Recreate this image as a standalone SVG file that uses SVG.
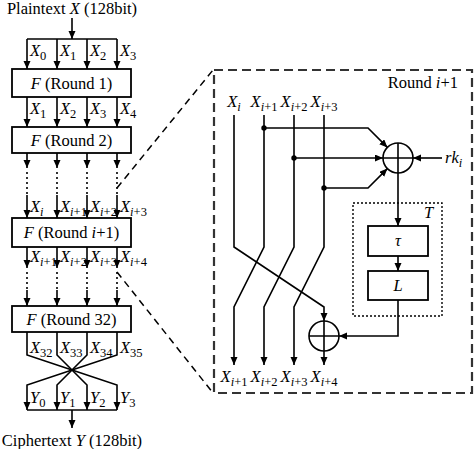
<svg xmlns="http://www.w3.org/2000/svg" width="474" height="449" viewBox="0 0 474 449">
<defs>
<marker id="ah" markerUnits="userSpaceOnUse" markerWidth="9" markerHeight="8" refX="8" refY="3.5" orient="auto">
<path d="M0,0 L8,3.5 L0,7 z" fill="#000"/>
</marker>
<style>
text{font-family:"Liberation Serif","Times New Roman",serif;font-size:16.5px;fill:#000}
.it{font-style:italic}
.s{font-size:12.5px}
.c{text-anchor:middle}
.ln{fill:none;stroke:#000;stroke-width:1.6}
.ar{fill:none;stroke:#000;stroke-width:1.6;marker-end:url(#ah)}
.dot{fill:none;stroke:#000;stroke-width:1.6;stroke-dasharray:2,3}
.dash{fill:none;stroke:#000;stroke-width:1.5;stroke-dasharray:7,5}
.box{fill:#fff;stroke:#000;stroke-width:1.8}
</style>
</defs>
<rect width="474" height="449" fill="#fff"/>

<g id="connectors">
<path class="ar" d="M72,18 V39"/>
<path class="ln" d="M27,39 H117"/>
<path class="ar" d="M27,39 V69"/><path class="ar" d="M57,39 V69"/><path class="ar" d="M87,39 V69"/><path class="ar" d="M117,39 V69"/>
<path class="ar" d="M27,97 V127"/><path class="ar" d="M57,97 V127"/><path class="ar" d="M87,97 V127"/><path class="ar" d="M117,97 V127"/>
<path class="ar" d="M27,153 V168"/><path class="ar" d="M57,153 V168"/><path class="ar" d="M87,153 V168"/><path class="ar" d="M117,153 V168"/>
<path class="dot" d="M27,172 V195 M57,172 V195 M87,172 V195 M117,172 V195"/>
<path class="ar" d="M27,195 V218"/><path class="ar" d="M57,195 V218"/><path class="ar" d="M87,195 V218"/><path class="ar" d="M117,195 V218"/>
<path class="ar" d="M27,247 V268"/><path class="ar" d="M57,247 V268"/><path class="ar" d="M87,247 V268"/><path class="ar" d="M117,247 V268"/>
<path class="dot" d="M27,272 V290 M57,272 V290 M87,272 V290 M117,272 V290"/>
<path class="ar" d="M27,290 V306"/><path class="ar" d="M57,290 V306"/><path class="ar" d="M87,290 V306"/><path class="ar" d="M117,290 V306"/>
<polyline class="ar" points="27,332 27,355 72,370 117,385 117,410"/>
<polyline class="ar" points="57,332 57,355 72,370 87,385 87,410"/>
<polyline class="ar" points="87,332 87,355 72,370 57,385 57,410"/>
<polyline class="ar" points="117,332 117,355 72,370 27,385 27,410"/>
<path class="ln" d="M27,410 H117"/>
<path class="ar" d="M72,410 V428"/>
<path class="dash" d="M117,188 L213,70"/>
<path class="dash" d="M117,272 L213,393"/>
<polyline class="ar" points="234,115 234,247 324,307 324,321"/>
<polyline class="ar" points="264,115 264,247 234,307 234,365"/>
<polyline class="ar" points="294,115 294,247 264,307 264,365"/>
<polyline class="ar" points="324,115 324,247 294,307 294,365"/>
<polyline class="ar" points="264,128 368,128 387.4,147.4"/>
<path class="ar" d="M294,158 H383"/>
<polyline class="ar" points="324,188 368,188 387.4,168.6"/>
<path class="ar" d="M442,158 H413"/>
<path class="ar" d="M398,173 V226"/>
<path class="ar" d="M398,256 V271"/>
<polyline class="ar" points="398,300 398,336 339,336"/>
<path class="ar" d="M324,351 V365"/>
<circle cx="264" cy="128" r="2.7" fill="#000"/>
<circle cx="294" cy="158" r="2.7" fill="#000"/>
<circle cx="324" cy="188" r="2.7" fill="#000"/>
</g>

<g id="plaintext"><text class="c" x="72" y="14">Plaintext <tspan class="it">X</tspan> (128bit)</text></g>
<g id="labels-in">
<text x="30" y="56"><tspan class="it">X</tspan><tspan class="s" dy="4">0</tspan></text>
<text x="60" y="56"><tspan class="it">X</tspan><tspan class="s" dy="4">1</tspan></text>
<text x="90" y="56"><tspan class="it">X</tspan><tspan class="s" dy="4">2</tspan></text>
<text x="120" y="56"><tspan class="it">X</tspan><tspan class="s" dy="4">3</tspan></text>
</g>
<g id="round1"><rect class="box" x="12" y="69" width="119" height="28"/><text class="c" x="71.5" y="89"><tspan class="it">F</tspan> (Round 1)</text></g>
<g id="labels-r1">
<text x="30" y="114"><tspan class="it">X</tspan><tspan class="s" dy="4">1</tspan></text>
<text x="60" y="114"><tspan class="it">X</tspan><tspan class="s" dy="4">2</tspan></text>
<text x="90" y="114"><tspan class="it">X</tspan><tspan class="s" dy="4">3</tspan></text>
<text x="120" y="114"><tspan class="it">X</tspan><tspan class="s" dy="4">4</tspan></text>
</g>
<g id="round2"><rect class="box" x="12" y="127" width="119" height="26"/><text class="c" x="71.5" y="146"><tspan class="it">F</tspan> (Round 2)</text></g>
<g id="labels-ri">
<text x="30" y="212"><tspan class="it">X</tspan><tspan class="s it" dy="4">i</tspan></text>
<text x="60" y="212"><tspan class="it">X</tspan><tspan class="s" dy="4"><tspan class="it">i</tspan>+1</tspan></text>
<text x="90" y="212"><tspan class="it">X</tspan><tspan class="s" dy="4"><tspan class="it">i</tspan>+2</tspan></text>
<text x="120" y="212"><tspan class="it">X</tspan><tspan class="s" dy="4"><tspan class="it">i</tspan>+3</tspan></text>
</g>
<g id="roundi"><rect class="box" x="12" y="218" width="119" height="29"/><text class="c" x="71.5" y="238"><tspan class="it">F</tspan> (Round <tspan class="it">i</tspan>+1)</text></g>
<g id="labels-ro">
<text x="30" y="262"><tspan class="it">X</tspan><tspan class="s" dy="4"><tspan class="it">i</tspan>+1</tspan></text>
<text x="60" y="262"><tspan class="it">X</tspan><tspan class="s" dy="4"><tspan class="it">i</tspan>+2</tspan></text>
<text x="90" y="262"><tspan class="it">X</tspan><tspan class="s" dy="4"><tspan class="it">i</tspan>+3</tspan></text>
<text x="120" y="262"><tspan class="it">X</tspan><tspan class="s" dy="4"><tspan class="it">i</tspan>+4</tspan></text>
</g>
<g id="round32"><rect class="box" x="12" y="306" width="119" height="26"/><text class="c" x="71.5" y="325"><tspan class="it">F</tspan> (Round 32)</text></g>
<g id="labels-out">
<text x="30" y="353"><tspan class="it">X</tspan><tspan class="s" dy="4">32</tspan></text>
<text x="60" y="353"><tspan class="it">X</tspan><tspan class="s" dy="4">33</tspan></text>
<text x="90" y="353"><tspan class="it">X</tspan><tspan class="s" dy="4">34</tspan></text>
<text x="120" y="353"><tspan class="it">X</tspan><tspan class="s" dy="4">35</tspan></text>
<text x="30" y="403"><tspan class="it">Y</tspan><tspan class="s" dy="4">0</tspan></text>
<text x="60" y="403"><tspan class="it">Y</tspan><tspan class="s" dy="4">1</tspan></text>
<text x="90" y="403"><tspan class="it">Y</tspan><tspan class="s" dy="4">2</tspan></text>
<text x="120" y="403"><tspan class="it">Y</tspan><tspan class="s" dy="4">3</tspan></text>
</g>
<g id="ciphertext"><text class="c" x="72" y="446">Ciphertext <tspan class="it">Y</tspan> (128bit)</text></g>

<g id="round-detail">
<rect x="214" y="70" width="258" height="323" fill="none" stroke="#333" stroke-width="2.2" stroke-dasharray="9,5"/>
<text x="458" y="88" text-anchor="end">Round <tspan class="it">i</tspan>+1</text>
</g>
<g id="detail-inputs">
<text class="c" x="234" y="107"><tspan class="it">X</tspan><tspan class="s it" dy="4">i</tspan></text>
<text class="c" x="264" y="107"><tspan class="it">X</tspan><tspan class="s" dy="4"><tspan class="it">i</tspan>+1</tspan></text>
<text class="c" x="294" y="107"><tspan class="it">X</tspan><tspan class="s" dy="4"><tspan class="it">i</tspan>+2</tspan></text>
<text class="c" x="324" y="107"><tspan class="it">X</tspan><tspan class="s" dy="4"><tspan class="it">i</tspan>+3</tspan></text>
</g>
<g id="xor1"><circle cx="398" cy="158" r="15" fill="none" stroke="#000" stroke-width="1.6"/><path class="ln" d="M383,158 H413 M398,143 V173"/></g>
<g id="rk"><text x="445" y="163" class="it">rk<tspan class="s" dy="4">i</tspan></text></g>
<g id="T"><rect x="353" y="203" width="89" height="113" fill="none" stroke="#000" stroke-width="1.4" stroke-dasharray="2,2"/><text x="424" y="218" class="it">T</text></g>
<g id="tau"><rect class="box" x="368" y="226" width="60" height="30"/><text class="c it" x="398" y="246">τ</text></g>
<g id="L"><rect class="box" x="368" y="271" width="60" height="29"/><text class="c it" x="398" y="291">L</text></g>
<g id="xor2"><circle cx="324" cy="336" r="15" fill="none" stroke="#000" stroke-width="1.6"/><path class="ln" d="M309,336 H339 M324,321 V351"/></g>
<g id="detail-outputs">
<text class="c" x="234" y="382"><tspan class="it">X</tspan><tspan class="s" dy="4"><tspan class="it">i</tspan>+1</tspan></text>
<text class="c" x="264" y="382"><tspan class="it">X</tspan><tspan class="s" dy="4"><tspan class="it">i</tspan>+2</tspan></text>
<text class="c" x="294" y="382"><tspan class="it">X</tspan><tspan class="s" dy="4"><tspan class="it">i</tspan>+3</tspan></text>
<text class="c" x="324" y="382"><tspan class="it">X</tspan><tspan class="s" dy="4"><tspan class="it">i</tspan>+4</tspan></text>
</g>
</svg>
